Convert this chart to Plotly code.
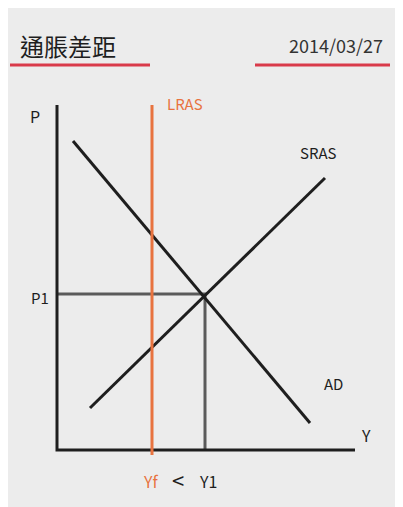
import plotly.graph_objects as go

# 坐标以画面像素为单位 (x 向右, y 向下)
axis_x = [57, 57, 355]
axis_y = [105, 450, 450]
lras_x = [152, 152]
lras_y = [105, 455]
ad_x = [73, 310]
ad_y = [141, 423]
sras_x = [90, 325]
sras_y = [408, 178]
eq_x = 205
eq_y = 294

fig = go.Figure()
dark = "#1e1e1e"
gray = "#5a5a5a"
orange = "#e8733f"
red = "#d93a4a"

fig.add_trace(go.Scatter(x=[57, eq_x, eq_x], y=[eq_y, eq_y, 450], mode="lines",
                         line=dict(color=gray, width=3)))
fig.add_trace(go.Scatter(x=axis_x, y=axis_y, mode="lines", line=dict(color=dark, width=3)))
fig.add_trace(go.Scatter(x=ad_x, y=ad_y, mode="lines", line=dict(color=dark, width=3)))
fig.add_trace(go.Scatter(x=sras_x, y=sras_y, mode="lines", line=dict(color=dark, width=3)))
fig.add_trace(go.Scatter(x=lras_x, y=lras_y, mode="lines", line=dict(color=orange, width=3)))
fig.add_trace(go.Scatter(x=[10, 150], y=[65, 65], mode="lines", line=dict(color=red, width=3)))
fig.add_trace(go.Scatter(x=[255, 390], y=[65, 65], mode="lines", line=dict(color=red, width=3)))

labels = [
    ("通脹差距", 18, 45, 24, dark, "left"),
    ("2014/03/27", 385, 45, 18, "#333", "right"),
    ("P", 35, 116, 16, dark, "center"),
    ("Y", 366, 435, 16, dark, "center"),
    ("LRAS", 185, 103, 15, orange, "center"),
    ("SRAS", 318, 152, 15, dark, "center"),
    ("AD", 333, 383, 15, dark, "center"),
    ("P1", 40, 297, 15, dark, "center"),
    ("Yf", 150, 481, 16, orange, "center"),
    ("<", 178, 479, 22, dark, "center"),
    ("Y1", 208, 481, 16, dark, "center"),
]
for t, x, y, s, c, a in labels:
    fig.add_annotation(x=x, y=y, text=t, showarrow=False, xanchor=a,
                       font=dict(size=s, color=c, family="Noto Sans CJK TC, Noto Sans"))

fig.update_layout(
    width=395, height=499, margin=dict(l=0, r=0, t=0, b=0),
    paper_bgcolor="#ececec", plot_bgcolor="#ececec", showlegend=False,
    xaxis=dict(range=[8, 403], visible=False, fixedrange=True),
    yaxis=dict(range=[507, 8], visible=False, fixedrange=True),
)
fig.write_html("out.html")
